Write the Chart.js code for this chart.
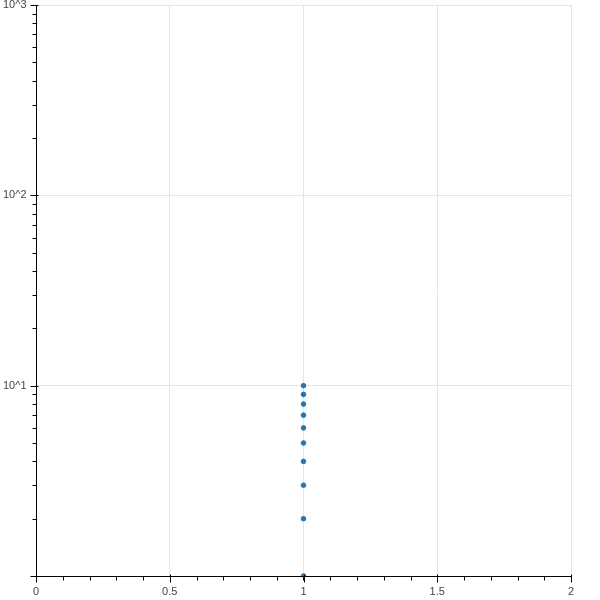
<!DOCTYPE html>
<html>
<head>
<meta charset="utf-8">
<script src="https://cdn.jsdelivr.net/npm/chart.js@4"></script>
<style>
  html, body { margin: 0; padding: 0; background: #fff; }
  #wrap { width: 600px; height: 600px; position: relative; }
</style>
</head>
<body>
<div id="wrap"><canvas id="c" width="600" height="600"></canvas></div>
<script>
const xValues = [1, 1, 1, 1, 1, 1, 1, 1, 1, 1];
const yValues = [1, 2, 3, 4, 5, 6, 7, 8, 9, 10];
const xTickValues = [0, 0.5, 1, 1.5, 2];
const xTickLabels = ['0', '0.5', '1', '1.5', '2'];
const yTickValues = [1, 10, 100, 1000];
const yTickLabels = ['', '10^1', '10^2', '10^3'];
const xMinorStep = 0.1;

const points = xValues.map((x, i) => ({ x: x, y: yValues[i] }));

const axisPlugin = {
  id: 'bokehAxes',
  afterDraw(chart) {
    const ctx = chart.ctx;
    const xs = chart.scales.x, ys = chart.scales.y;
    const area = chart.chartArea;
    const ax = Math.round(area.left) + 0.5;
    const ay = Math.round(area.bottom) + 0.5;
    ctx.save();
    ctx.strokeStyle = '#000';
    ctx.lineWidth = 1;
    ctx.beginPath();
    // axis lines
    ctx.moveTo(ax, Math.round(area.top));
    ctx.lineTo(ax, ay);
    ctx.moveTo(ax - 0.5, ay);
    ctx.lineTo(Math.round(area.right), ay);
    // x minor ticks
    for (let v = xs.min; v <= xs.max + 1e-9; v += xMinorStep) {
      const px = Math.round(xs.getPixelForValue(v)) + 0.5;
      ctx.moveTo(px, ay);
      ctx.lineTo(px, ay + 4);
    }
    // x major ticks
    xTickValues.forEach(v => {
      const px = Math.round(xs.getPixelForValue(v)) + 0.5;
      ctx.moveTo(px, ay - 2);
      ctx.lineTo(px, ay + 6);
    });
    // y minor ticks
    for (let d = 1; d < 1000; d *= 10) {
      for (let m = 2; m <= 9; m++) {
        const py = Math.round(ys.getPixelForValue(d * m)) + 0.5;
        ctx.moveTo(ax, py);
        ctx.lineTo(ax - 4, py);
      }
    }
    // y major ticks
    yTickValues.forEach(v => {
      const py = Math.round(ys.getPixelForValue(v)) + 0.5;
      ctx.moveTo(ax + 2, py);
      ctx.lineTo(ax - 6, py);
    });
    ctx.stroke();

    ctx.fillStyle = '#444';
    ctx.font = '11px "Liberation Sans", Arial, sans-serif';
    ctx.textAlign = 'center';
    ctx.textBaseline = 'top';
    xTickValues.forEach((v, i) => {
      const px = xs.getPixelForValue(v);
      ctx.fillText(xTickLabels[i], px, ay + 10);
    });
    ctx.textAlign = 'right';
    ctx.textBaseline = 'middle';
    yTickValues.forEach((v, i) => {
      const py = ys.getPixelForValue(v);
      ctx.fillText(yTickLabels[i], ax - 10, py);
    });
    ctx.restore();
  }
};

new Chart(document.getElementById('c'), {
  type: 'scatter',
  data: {
    datasets: [{
      data: points,
      backgroundColor: '#1f77b4',
      borderColor: '#1f77b4',
      pointRadius: 2.3,
      borderWidth: 1,
      clip: 0
    }]
  },
  options: {
    responsive: false,
    animation: false,
    devicePixelRatio: 1,
    layout: { padding: { left: 36, right: 29, top: 5, bottom: 24 } },
    plugins: { legend: { display: false }, tooltip: { enabled: false } },
    scales: {
      x: {
        type: 'linear', min: 0, max: 2,
        afterBuildTicks: s => { s.ticks = xTickValues.map(v => ({ value: v })); },
        ticks: { display: false },
        border: { display: false },
        grid: { drawTicks: false, color: '#e5e5e5', lineWidth: 1 }
      },
      y: {
        type: 'logarithmic', min: 1, max: 1000,
        afterBuildTicks: s => { s.ticks = yTickValues.map(v => ({ value: v })); },
        ticks: { display: false },
        border: { display: false },
        grid: { drawTicks: false, color: '#e5e5e5', lineWidth: 1 }
      }
    }
  },
  plugins: [axisPlugin]
});
</script>
</body>
</html>
